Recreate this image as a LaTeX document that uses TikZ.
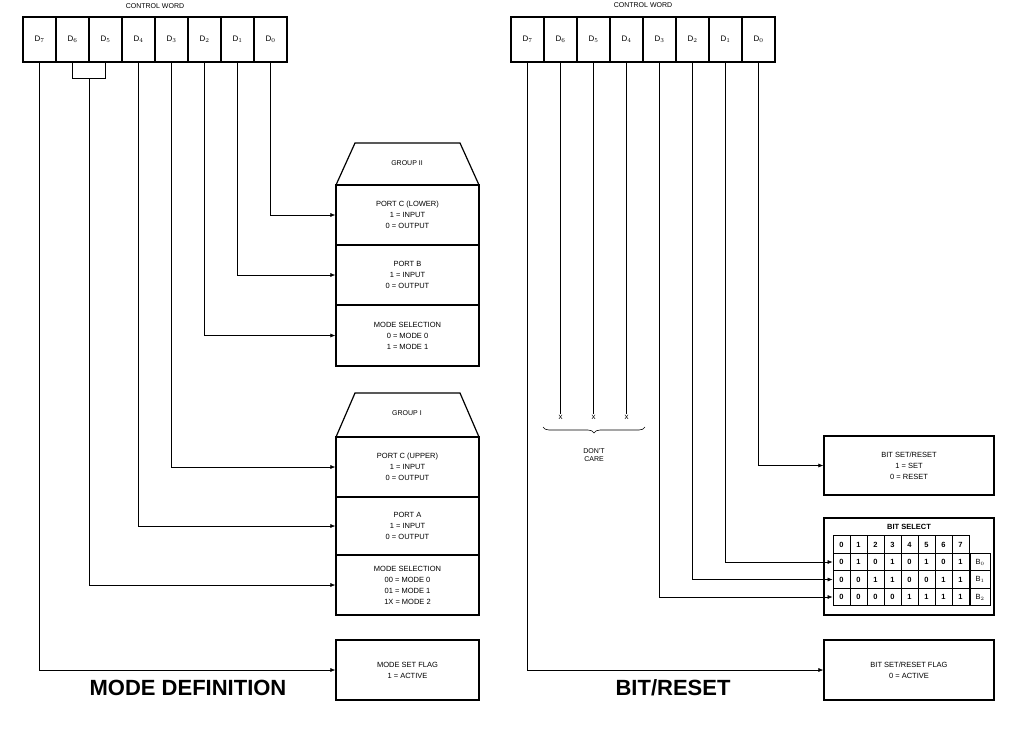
\documentclass[tikz,border=0pt]{standalone}
\usepackage{fontspec}
\setmainfont{Liberation Sans}
\usetikzlibrary{arrows.meta,decorations.pathreplacing}
\begin{document}
\begin{tikzpicture}[x=1pt,y=-1pt,
  cell/.style={draw,line width=1.2pt,minimum width=33pt,minimum height=45pt,inner sep=0pt,font=\fontsize{8}{9}\selectfont},
  box/.style={draw,line width=1.2pt,inner sep=0pt,align=center,font=\fontsize{7.5}{11}\selectfont},
  wire/.style={line width=0.6pt},
  arr/.style={wire,-{Latex[length=5pt,width=4pt]}},
  tc/.style={draw,line width=0.8pt,minimum width=17pt,minimum height=17.5pt,inner sep=0pt,font=\fontsize{7.5}{8}\bfseries\selectfont},
  lbl/.style={font=\fontsize{7}{8}\selectfont}]
\useasboundingbox (0,0) rectangle (1024,731);
% left control word
\node[lbl] (cwl) at (155,6) {CONTROL WORD};
\foreach \t [count=\i from 0] in {D$_7$,D$_6$,D$_5$,D$_4$,D$_3$,D$_2$,D$_1$,D$_0$}
  \node[cell] (L\i) at (39.5+33*\i,39.5) {\t};
% right control word
\node[lbl] (cwr) at (643,5) {CONTROL WORD};
\foreach \t [count=\i from 0] in {D$_7$,D$_6$,D$_5$,D$_4$,D$_3$,D$_2$,D$_1$,D$_0$}
  \node[cell] (R\i) at (527.5+33*\i,39.5) {\t};
% Group II
\draw[line width=1.2pt] (336,185) -- (355,143) -- (460,143) -- (479,185);
\node[lbl] (g2) at (407,163) {GROUP II};
\node[box,minimum width=143pt,minimum height=60pt] (pcl) at (407.5,215) {PORT C (LOWER)\\1 = INPUT\\0 = OUTPUT};
\node[box,minimum width=143pt,minimum height=60pt] (pb) at (407.5,275) {PORT B\\1 = INPUT\\0 = OUTPUT};
\node[box,minimum width=143pt,minimum height=61pt] (ms2) at (407.5,335.5) {MODE SELECTION\\0 = MODE 0\\1 = MODE 1};
% Group I
\draw[line width=1.2pt] (336,437) -- (355,393) -- (460,393) -- (479,437);
\node[lbl] (g1) at (407,413) {GROUP I};
\node[box,minimum width=143pt,minimum height=60pt] (pcu) at (407.5,467) {PORT C (UPPER)\\1 = INPUT\\0 = OUTPUT};
\node[box,minimum width=143pt,minimum height=58pt] (pa) at (407.5,526) {PORT A\\1 = INPUT\\0 = OUTPUT};
\node[box,minimum width=143pt,minimum height=60pt] (ms1) at (407.5,585) {MODE SELECTION\\00 = MODE 0\\01 = MODE 1\\1X = MODE 2};
\node[box,minimum width=143pt,minimum height=60pt] (msf) at (407.5,670) {MODE SET FLAG\\1 = ACTIVE};
\node[font=\fontsize{22}{24}\bfseries\selectfont] (t1) at (188,688) {MODE DEFINITION};
% left wires
\coordinate (br) at (89,78);
\draw[wire] (L1.south) -- (L1.south|-br) -- (L2.south|-br) -- (L2.south);
\draw[arr] (L0.south) |- (msf.west);
\draw[arr] (br) |- (ms1.west);
\draw[arr] (L3.south) |- (pa.west);
\draw[arr] (L4.south) |- (pcu.west);
\draw[arr] (L5.south) |- (ms2.west);
\draw[arr] (L6.south) |- (pb.west);
\draw[arr] (L7.south) |- (pcl.west);
% right side
\foreach \i in {1,2,3} {
  \node[font=\fontsize{8}{9}\selectfont,inner sep=1pt] (X\i) at (R\i.south|-0,417) {x};
  \draw[wire] (R\i.south) -- (X\i.north);
}
\draw[wire,decorate,decoration={brace,mirror,amplitude=6pt}] (543,427) -- (645,427);
\node[lbl,align=center] (dc) at (594,455) {DON'T\\CARE};
\node[box,minimum width=170pt,minimum height=59pt] (bsr) at (909,465.5) {BIT SET/RESET\\1 = SET\\0 = RESET};
\node[draw,line width=1.2pt,minimum width=170pt,minimum height=97pt] (bs) at (909,566.5) {};
\node[font=\fontsize{7.5}{8}\bfseries\selectfont] (bst) at (909,527) {BIT SELECT};
\foreach \v [count=\c from 0] in {0,1,2,3,4,5,6,7}
  \node[tc] (h\c) at (841.5+17*\c,544.5) {\v};
\foreach \r/\vals/\b [count=\k from 0] in {0/{0,1,0,1,0,1,0,1}/B$_0$,1/{0,0,1,1,0,0,1,1}/B$_1$,2/{0,0,0,0,1,1,1,1}/B$_2$}{
  \foreach \v [count=\c from 0] in \vals
    \node[tc] (c\r\c) at (841.5+17*\c,562+17.5*\k) {\v};
  \node[tc,minimum width=20pt,font=\fontsize{7.5}{8}\selectfont] (b\r) at (980,562+17.5*\k) {\b};
}
\node[box,minimum width=170pt,minimum height=60pt] (bsf) at (909,670) {BIT SET/RESET FLAG\\0 = ACTIVE};
\node[font=\fontsize{22}{24}\bfseries\selectfont] (t2) at (673,688) {BIT/RESET};
\draw[arr] (R7.south) |- (bsr.west);
\draw[arr] (R6.south) |- (c00.west);
\draw[arr] (R5.south) |- (c10.west);
\draw[arr] (R4.south) |- (c20.west);
\draw[arr] (R0.south) |- (bsf.west);
\end{tikzpicture}
\end{document}
